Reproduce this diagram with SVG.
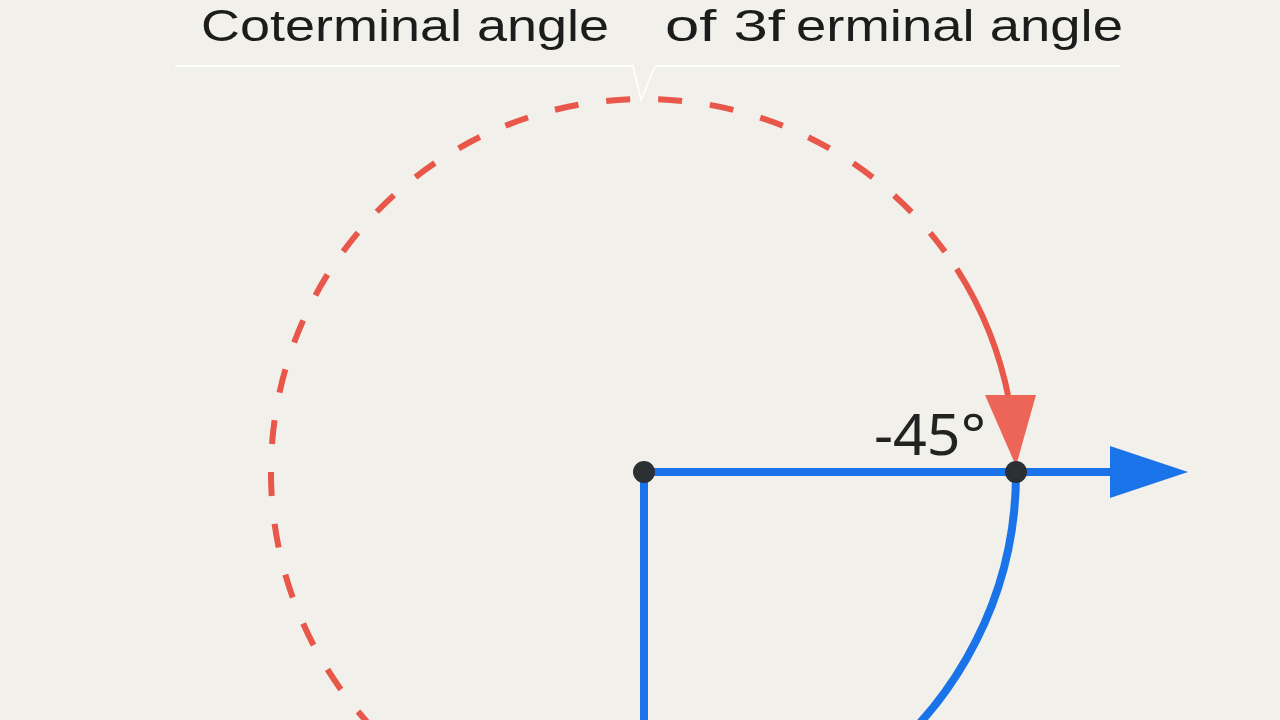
<svg xmlns="http://www.w3.org/2000/svg" width="1280" height="720" viewBox="0 0 1280 720">
  <style>
    .title { font-family: "Liberation Sans", Arial, sans-serif; font-size: 45px; fill: #1c1c1c; }
    .label { font-family: "Noto Sans", "Liberation Sans", sans-serif; font-size: 56px; fill: #222222; }
    .blue { stroke: #1a73e8; stroke-width: 8; fill: none; }
    .red { stroke: #e8574a; stroke-width: 6; fill: none; }
    .dot { fill: #2b3035; }
  </style>
  <rect width="1280" height="720" fill="#f1f0ea"/>

  <g id="title">
    <text class="title" x="201" y="41" textLength="408" lengthAdjust="spacingAndGlyphs">Coterminal angle</text>
    <text class="title" x="665" y="41" textLength="120" lengthAdjust="spacingAndGlyphs">of 3f</text>
    <text class="title" x="796" y="41" textLength="327" lengthAdjust="spacingAndGlyphs">erminal angle</text>
    <polyline points="175,66 633,66 641,100 655,66 1120,66" fill="none" stroke="#ffffff" stroke-width="2" opacity="0.8"/>
  </g>

  <g id="connectors">
    <path id="dashed-arc" class="red" d="M 611.5 843.6 A 373 373 0 1 1 956.8 268.9" stroke-dasharray="24 28" stroke-dashoffset="42.7"/>
    <path id="solid-arc" class="red" d="M 956.8 268.9 A 373 373 0 0 1 1009 400"/>
    <polygon id="red-head" points="985,395 1036,395 1016,466" fill="#ec6556"/>
    <path id="blue-arc" class="blue" d="M 1016 472 A 372 372 0 0 1 830.5 795"/>
    <line class="blue" x1="644" y1="472" x2="644" y2="730"/>
    <line class="blue" x1="644" y1="472" x2="1115" y2="472"/>
    <polygon id="blue-head" points="1110,446 1188,472 1110,498" fill="#1a73e8"/>
  </g>

  <g id="vertex"><circle class="dot" cx="644" cy="472" r="11"/></g>
  <g id="terminal-point"><circle class="dot" cx="1016" cy="472" r="11"/></g>
  <g id="angle-label"><text class="label" x="874" y="455" textLength="112" lengthAdjust="spacingAndGlyphs">-45°</text></g>
</svg>
